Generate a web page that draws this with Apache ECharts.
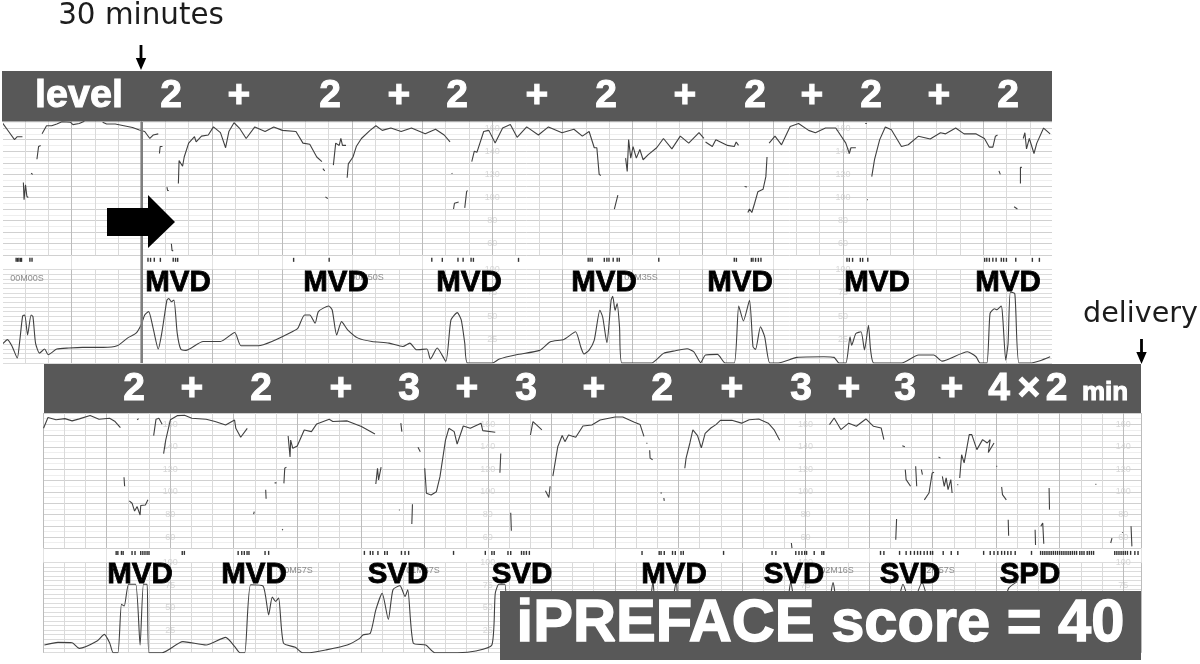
<!DOCTYPE html>
<html>
<head>
<meta charset="utf-8">
<style>
  html, body { margin: 0; background: #fff; }
  #chart { width: 1200px; height: 664px; }
</style>
<script src="https://cdn.jsdelivr.net/npm/echarts@6/dist/echarts.min.js"></script>
</head>
<body>
<div id="chart"></div>
<script>
// x values are chart squares from the left edge of each strip, y values are bpm or toco units
const fhrRow1 = [
  [[0.06,164],[0.31,157],[0.56,150],[0.68,152.5],[0.9,152.5]],
  [[0.94,113],[0.97,98],[1.03,111],[1.09,101],[1.15,100]],
  [[1.27,121],[1.34,120]],
  [[1.52,133],[1.59,144],[1.68,145]],
  [[1.74,155],[1.93,162],[2.15,162],[2.37,163.5],[2.59,165.5],[2.96,165],[3.06,163],[3.33,164],[3.55,166]],
  [[4.33,165],[4.5,163.5],[4.87,163.5],[5.24,162],[5.61,160.5],[5.9,158.3],[6.13,157],[6.35,151],[6.49,154],[6.71,155]],
  [[6.76,138],[6.79,144],[6.89,144]],
  [[7.08,109],[7.11,106],[7.16,106]],
  [[7.27,60],[7.3,54],[7.35,54]],
  [[7.57,112],[7.6,132],[7.75,127],[7.82,135],[8.01,147],[8.26,152.5],[8.33,148],[8.56,153],[8.85,154],[9.07,161],[9.37,156],[9.59,143],[9.73,157],[9.95,164.6],[10.18,160],[10.47,151],[10.84,161],[11.28,157],[11.65,161],[12.02,158],[12.6,157],[12.9,147],[13.19,146],[13.49,135],[13.71,131]],
  [[13.75,125],[13.83,123]],
  [[13.86,100.5],[13.96,99]],
  [[14.2,128],[14.3,147],[14.45,145],[14.52,151],[14.59,145],[14.74,145]],
  [[14.79,117],[14.84,129],[15.04,135],[15.18,144],[15.4,151],[15.77,158],[16.02,162],[16.29,158],[16.66,160],[17.1,157],[17.54,160],[18.13,155],[18.57,159],[18.94,154],[19.19,148]],
  [[19.26,121],[19.29,120.5]],
  [[19.34,90],[19.38,95],[19.56,96]],
  [[19.82,91],[19.9,105],[19.94,106]],
  [[20.12,131],[20.23,140],[20.34,139],[20.63,157],[20.85,158],[21.12,147],[21.44,160],[21.77,163],[22.06,152],[22.47,161],[22.97,154],[23.4,161],[23.98,156],[24.49,159],[24.85,153],[25.14,157],[25.36,143],[25.47,143],[25.57,120],[25.64,119]],
  [[26.22,90],[26.3,96.5],[26.37,102]],
  [[26.7,134],[26.77,122.5],[26.83,150],[26.92,134],[27.02,144],[27.16,134],[27.31,141.5],[27.45,132.6],[27.67,137],[28.03,143],[28.32,151],[28.68,142],[29.04,153],[29.4,147],[29.84,156],[30.05,151]],
  [[30.12,148],[30.41,144],[30.56,150],[31.06,145],[31.35,144],[31.43,148],[31.53,145]],
  [[31.79,109.5],[31.89,109]],
  [[31.93,87],[32,90],[32.1,87],[32.22,95],[32.36,105],[32.58,107],[32.7,118],[32.75,135]],
  [[32.84,147],[33.09,153],[33.37,145.5],[33.74,161.4],[34.1,164],[34.53,158],[34.82,156],[35.25,160],[35.69,160],[36.12,147],[36.27,138],[36.34,143],[36.55,143]],
  [[36.95,164],[37.02,164]],
  [[37.03,98],[37.07,98]],
  [[37.23,118],[37.35,133],[37.57,150],[37.81,161],[38.07,158.6],[38.5,144],[38.79,145.6],[39.23,153],[39.73,150.5],[40.17,156],[40.39,155],[40.82,160],[41.18,155],[41.68,155],[42.05,151],[42.26,143.5],[42.41,143.5],[42.52,153],[42.61,154]],
  [[42.67,123],[42.73,120]],
  [[43.32,92],[43.46,90]],
  [[43.59,112],[43.59,126],[43.65,126]],
  [[43.71,151],[43.78,156],[43.85,142],[43.97,151],[44.17,138],[44.29,147],[44.58,160],[44.86,155]]
];

const tocoRow1 = [
  [0.06,20.6],[0.26,25],[0.46,17.7],[0.68,5.3],[0.79,24.8],[0.91,50.3],[1,51.4],[1.12,30],[1.27,51.4],[1.35,49.6],[1.46,21.3],[1.63,10.6],[1.85,14.9],[2,8.9],[2.37,14.9],[2.89,16],[3.47,16.7],[4.36,16.7],[4.95,18.4],[5.39,26.6],[5.76,31.9],[5.98,40.8],[6.13,51.4],[6.3,55],[6.49,37.2],[6.71,14.9],[6.86,31.9],[7.08,67.3],[7.16,69],[7.27,65.5],[7.38,67.3],[7.52,31.9],[7.67,14.9],[7.89,13.5],[8.63,23],[9.37,23],[9.98,32.6],[10.25,18.4],[10.99,18.4],[11.57,23],[12.46,33.7],[12.68,37.2],[12.97,51.4],[13.19,51.4],[13.42,42.5],[13.56,55],[14,61],[14.15,56.7],[14.34,30],[14.55,44.3],[14.81,35.5],[15.26,26.6],[15.85,23],[16.58,21.3],[17.17,17.7],[17.47,21.3],[17.76,14.2],[18.2,14.9],[18.35,4.3],[18.64,16],[19.01,1.8],[19.23,46],[19.5,53.9],[19.67,46],[19.82,21.3],[19.94,0],[21,0],[21.3,4.3],[22.03,8.9],[23.03,13.5],[23.48,22.7],[24.06,25.2],[24.56,33.4],[24.78,17.4],[24.92,9.6],[25.14,13.8],[25.36,24.5],[25.6,56.4],[25.72,49.2],[25.9,21.6],[26.08,67],[26.15,71.3],[26.25,56.4],[26.34,63.5],[26.44,38.7],[26.54,0],[27.81,0],[28.32,10.3],[28.82,13.1],[29.33,15.2],[29.62,12],[29.91,0.4],[30.12,8.5],[30.63,9.2],[30.96,0],[31.35,0],[31.54,61],[31.74,45],[32,67],[32.15,17.4],[32.26,14.6],[32.47,38.7],[32.65,28],[32.87,0],[33.23,0],[34.03,6],[35.18,6.7],[35.62,6],[35.83,0],[36.12,0],[36.3,28],[36.37,19],[36.55,31.5],[36.77,33.4],[36.92,14],[37.09,40.4],[37.18,14],[37.32,0],[38.51,0],[39.23,8.5],[39.88,8.5],[40.24,2],[41.32,12],[41.69,6.7],[41.86,0],[42.15,0],[42.29,53],[42.48,58],[42.58,57],[42.77,61],[42.84,46],[42.96,3],[43.06,21],[43.16,76],[43.35,74],[43.53,0],[44,0],[44.43,2.5],[44.86,6.7]
];

const marksRow1 = [0.63,0.69,0.75,0.82,0.86,1.22,1.31,6.27,6.38,6.54,6.8,7.35,7.45,7.54,12.5,14.02,18.41,18.86,19.53,19.75,20.09,20.19,22.12,25.1,25.18,25.27,25.79,25.9,25.99,26.17,26.34,26.43,28.12,31.35,31.44,32.08,32.15,32.26,32.38,32.49,36.17,36.27,36.41,36.74,36.84,37.06,42.06,42.15,42.26,42.41,42.55,42.77,42.87,42.99,43.39,44.1,44.4];

const fhrRow2 = [
  [[0.02,156.4],[0.23,166],[0.61,164],[1.03,165],[1.37,163],[1.71,164.8],[2.22,167.7],[2.64,164.5],[3.14,165.3],[3.4,162.4],[3.65,157]],
  [[3.82,113],[3.85,105]],
  [[4.07,92],[4.2,90],[4.32,83],[4.44,87],[4.58,79.5],[4.61,88],[4.83,88.4],[4.95,93]],
  [[4.44,164],[4.51,165]],
  [[5.22,150],[5.33,164.4],[5.47,165.3],[5.62,160]],
  [[5.69,134],[5.79,146],[6.01,164],[6.35,167.7],[6.68,168],[7.02,165.3],[7.7,164.4],[8.12,162.4],[8.62,159.4],[9.04,163.8],[9.1,156.4],[9.33,148.5],[9.64,156.4]],
  [[9.94,80.4],[9.97,82.5]],
  [[10.51,102],[10.53,94]],
  [[10.93,108],[11.02,108]],
  [[11.29,67],[11.32,66]],
  [[11.37,107.6],[11.41,121],[11.49,122]],
  [[11.57,149.6],[11.66,131],[11.69,146],[11.79,138.7],[12,140.8],[12.33,155],[12.67,153.5],[12.92,160.3],[13.51,164.4],[13.68,162.4],[14.36,163],[15.03,158],[15.67,151.4]],
  [[15.71,107],[15.79,121],[15.84,110.6],[15.96,122]],
  [[16.8,84],[16.84,84]],
  [[16.89,161],[16.94,153.5]],
  [[17.44,89],[17.41,71.5]],
  [[17.7,139.6],[17.81,135.7]],
  [[18.02,121],[18.1,98.8],[18.32,97.3],[18.57,100.2],[18.74,113.5],[19,146],[19.16,156.4],[19.41,153.5],[19.55,142.5],[19.84,158.5],[20.17,156.4],[20.68,160.9],[20.76,154.4],[21.35,152.9]],
  [[21.57,117],[21.61,134]],
  [[22.08,81.6],[22.11,65.6]],
  [[22.42,110.6],[22.45,110.6]],
  [[23.01,150.5],[23.13,162.4],[23.3,159.4],[23.55,155]],
  [[23.72,101],[23.88,95],[23.94,105]],
  [[24.07,114],[24.3,140],[24.51,150],[24.64,144.6],[24.81,150.5],[25.15,148.5],[25.49,158.5],[25.91,159.4],[26.3,163.8],[27.01,166.5],[27.37,166.5],[27.92,161.8],[28.19,159.7],[28.37,149.3]],
  [[28.49,143.4],[28.53,143]],
  [[28.64,137],[28.66,130],[28.78,128.6]],
  [[28.9,122],[28.93,122]],
  [[29.15,99],[29.22,99]],
  [[29.31,94.6],[29.33,92]],
  [[30.3,121],[30.36,130],[30.54,143.4],[30.68,155],[30.9,150],[31.08,139],[31.26,152],[31.53,156.7],[31.77,159.7],[31.98,163.5],[32.52,163.5],[32.98,161],[33.34,164],[33.79,164.7],[34.24,161],[34.51,155.3],[34.78,145.8]],
  [[35.33,54.7],[35.36,50.2]],
  [[37.13,159.7],[37.35,165.6],[37.67,155.3],[38.04,161],[38.4,158.3],[38.85,164.7],[39.21,158.2],[39.57,156.7],[39.7,146.4]],
  [[40.3,76],[40.26,57.6]],
  [[40.57,141],[40.69,140]],
  [[40.71,119.8],[40.75,110.9],[40.96,105]],
  [[41.2,122.7],[41.25,105]],
  [[41.47,119.8],[41.52,115.3]],
  [[41.61,93],[41.83,99],[41.98,116.8],[42.07,117.4]],
  [[42.28,131],[42.37,130]],
  [[42.46,113.8],[42.55,105],[42.64,112.4],[42.73,102],[42.86,110.9],[42.92,99]],
  [[43.17,106.5],[43.21,106.5]],
  [[43.28,112.4],[43.37,133],[43.49,125.7],[43.73,150.8],[43.85,150.8],[44.09,137.5],[44.36,146.4],[44.58,143.4],[44.72,146.4],[44.63,135],[44.9,143.4]],
  [[45.01,122.7],[45.05,122.7]],
  [[45.26,104.4],[45.3,97.6],[45.48,93]],
  [[45.57,75.4],[45.59,61.2]],
  [[46.84,66.5],[46.86,53]],
  [[47.11,69.5],[47.2,72.4],[47.25,54]],
  [[47.5,103.5],[47.52,84.3]],
  [[49.69,106.7],[49.73,106.7]],
  [[50.41,54.7],[50.47,59]],
  [[50.94,64],[50.98,64]],
  [[51.37,69.5],[51.41,51.7]]
];

const tocoRow2 = [
  [0.06,8.6],[0.7,11.5],[1.37,11.1],[1.71,4.8],[2.55,13],[2.89,20.4],[3.14,11.1],[3.31,0],[3.53,0],[3.7,53.8],[3.83,51.9],[4.04,76],[4.37,76],[4.58,8.5],[4.74,76],[4.91,76],[5,0],[5.62,0],[6.6,12.3],[7.7,8.5],[8.62,17],[9.05,6.8],[9.3,0],[9.52,0],[9.8,75.5],[10.39,74],[10.65,42],[10.82,61.8],[10.98,57],[11.12,60.8],[11.35,10.6],[11.91,6],[12.25,0],[12.59,0],[13.34,3],[14.36,8.5],[14.95,15.9],[15.1,19.8],[15.45,21.6],[15.71,47.5],[16.01,66],[16.3,37],[16.52,70],[16.85,74.5],[17.09,62.5],[17.22,70],[17.48,10.6],[18.07,8.5],[18.49,0],[19.58,0],[20.43,1.9],[21.19,8.5],[21.35,66],[21.52,76],[21.8,76],[22.2,0],[28.2,0],[28.64,50],[28.8,79],[28.95,50],[29.6,50],[29.9,79],[30.1,50],[35,50],[35.3,78],[35.6,50],[37,50],[37.3,78],[37.6,50],[40.2,50],[40.6,76],[41,50],[41.5,78],[42,50],[45.2,50],[45.6,72],[46,79]
];

const marksRow2 = [3.45,3.53,3.7,3.78,4.2,4.34,4.61,4.71,4.81,4.91,5,6.57,6.67,9.21,9.38,9.5,9.63,9.72,10.48,10.65,15.17,15.45,15.57,15.81,16.13,16.25,16.92,17.09,17.26,19.38,20.88,21.19,21.3,21.95,22.08,22.59,22.7,22.82,22.96,28.28,29.09,29.18,29.33,29.72,29.85,30.12,30.23,32.13,34.42,34.6,35.54,35.69,35.83,35.96,36.05,36.41,36.77,36.86,39.54,39.7,40.44,40.75,40.96,41.14,41.29,41.43,41.6,41.75,41.9,42,42.5,42.88,43.19,44.41,44.72,44.9,45.08,45.26,45.4,45.55,45.7,45.9,46.67,47.1,47.2,47.3,47.4,47.5,47.6,47.7,47.8,47.9,48,48.1,48.2,48.3,48.4,48.5,48.6,48.7,48.8,48.95,49.05,49.15,49.3,49.4,49.5,49.6,50.6,50.7,50.8,50.9,51,51.1,51.2,51.35,51.55,51.7];

const fhrScale = [160, 140, 120, 100, 80, 60];
const tocoScale = [100, 75, 50, 25];
const scaleColsRow1 = [21, 36];
const scaleColsRow2 = [6, 21, 36, 51];

const termsRow1 = ['2', '+', '2', '+', '2', '+', '2', '+', '2', '+', '2', '+', '2'];
const termsRow2 = ['2', '+', '2', '+', '3', '+', '3', '+', '2', '+', '3', '+', '3', '+', '4', '×', '2'];
const kindsRow1 = ['MVD', 'MVD', 'MVD', 'MVD', 'MVD', 'MVD', 'MVD'];
const kindsRow2 = ['MVD', 'MVD', 'SVD', 'SVD', 'MVD', 'SVD', 'SVD', 'SPD'];

// label centres on the page, kept apart from the values above
const termXRow1 = [171, 239, 330, 399, 457, 537, 606, 685, 755, 812, 871, 939, 1008];
const termXRow2 = [134, 192, 261, 341, 409, 467, 526, 594, 662, 732, 801, 849, 905, 952, 999, 1029, 1056.5];
const kindXRow1 = [178, 336, 469, 604, 740, 877, 1008];
const kindXRow2 = [140, 254, 398, 522, 674, 794, 910, 1030];

const lineColor = '#404040';
const bandColor = '#585858';
const sansBold = '"Liberation Sans", Arial, sans-serif';

const rows = [
  { left: 1.4, width: 1050.6, maxX: 44.94, fhrTop: 116.5, fhrH: 138.8, stripTop: 255.3, stripH: 14.2, tocoTop: 269.5, tocoH: 93.5 },
  { left: 43.1, width: 1097.9, maxX: 51.84, fhrTop: 413, fhrH: 135.3, stripTop: 548.3, stripH: 14.4, tocoTop: 562.7, tocoH: 90 }
];

// join the separate trace pieces, a null pair breaks the line
function withGaps(segments) {
  let out = [];
  segments.forEach((s, i) => {
    if (i) out.push([null, null]);
    out = out.concat(s);
  });
  return out;
}

let grids = [], xAxes = [], yAxes = [];

function addPanel(row, top, height, yOpt, hLines) {
  let g = grids.length;
  grids.push({ left: row.left, width: row.width, top: top, height: height, containLabel: false });
  xAxes.push({
    type: 'value', gridIndex: g, min: 0, max: row.maxX, interval: 1,
    axisLine: { show: false }, axisTick: { show: false }, axisLabel: { show: false },
    splitLine: { show: hLines, lineStyle: { color: '#dadada', width: 1 } }
  });
  xAxes.push({
    type: 'value', gridIndex: g, min: 0, max: row.maxX, interval: 3, position: 'top',
    axisLine: { show: false }, axisTick: { show: false }, axisLabel: { show: false },
    splitLine: { show: true, lineStyle: { color: hLines ? '#bcbcbc' : '#e2e2e2', width: 1 } }
  });
  yAxes.push(Object.assign({
    type: 'value', gridIndex: g,
    axisLine: { show: false }, axisTick: { show: false }, axisLabel: { show: false }
  }, yOpt));
  return g;
}

function fhrAxis() {
  return {
    min: 50, max: 170, interval: 10,
    minorTick: { show: false, splitNumber: 2 },
    splitLine: { show: true, lineStyle: { color: '#d0d0d0', width: 1 } },
    minorSplitLine: { show: true, lineStyle: { color: '#eeeeee', width: 1 } }
  };
}

function tocoAxis() {
  return {
    min: 0, max: 100, interval: 5,
    splitLine: { show: true, lineStyle: { color: '#dcdcdc', width: 1 } }
  };
}

let series = [];

function traceSeries(g, data, smooth) {
  return {
    type: 'line', data: data, xAxisIndex: g * 2, yAxisIndex: g,
    showSymbol: false, connectNulls: false, silent: true, z: 3, smooth: smooth,
    lineStyle: { color: lineColor, width: 1.1 }
  };
}

function scaleSeries(g, cols, values) {
  let data = [];
  cols.forEach(c => values.forEach(v => data.push([c, v])));
  return {
    type: 'scatter', data: data, xAxisIndex: g * 2, yAxisIndex: g, symbolSize: 0, silent: true, z: 2,
    label: {
      show: true, position: 'inside', color: '#cecece', fontSize: 9, fontFamily: sansBold,
      formatter: p => String(p.value[1])
    }
  };
}

function markSeries(g, marks) {
  return {
    type: 'scatter', data: marks.map(m => [m, 0.68]), xAxisIndex: g * 2, yAxisIndex: g,
    symbol: 'rect', symbolSize: [1.4, 4], silent: true, z: 3,
    itemStyle: { color: '#333', opacity: 1 }
  };
}

let stripAxis = { min: 0, max: 1, splitLine: { show: false } };

[
  [rows[0], fhrRow1, tocoRow1, marksRow1, scaleColsRow1],
  [rows[1], fhrRow2, tocoRow2, marksRow2, scaleColsRow2]
].forEach(r => {
  let row = r[0];
  let gF = addPanel(row, row.fhrTop, row.fhrH, fhrAxis(), true);
  let gS = addPanel(row, row.stripTop, row.stripH, stripAxis, false);
  let gT = addPanel(row, row.tocoTop, row.tocoH, tocoAxis(), true);
  series.push(scaleSeries(gF, r[4], fhrScale));
  series.push(scaleSeries(gT, r[4], tocoScale));
  series.push(traceSeries(gF, withGaps(r[1]), false));
  series.push(markSeries(gS, r[3]));
  series.push(traceSeries(gT, r[2], 0.2));
});

function text(x, y, str, size, opt) {
  return {
    type: 'text', z: 100, x: x, y: y, silent: true,
    style: Object.assign({
      text: str, fontSize: size, fontWeight: 'bold', fontFamily: sansBold,
      fill: '#fff', stroke: '#fff', lineWidth: 1, align: 'center', verticalAlign: 'middle'
    }, opt || {})
  };
}

function band(x, y, w, h) {
  return { type: 'rect', z: 90, silent: true, shape: { x: x, y: y, width: w, height: h }, style: { fill: bandColor } };
}

function poly(points) {
  return { type: 'polygon', z: 95, silent: true, shape: { points: points }, style: { fill: '#000' } };
}

function downArrow(x, top, bottom) {
  return poly([[x - 1.4, top], [x + 1.4, top], [x + 1.4, bottom - 12], [x + 5.2, bottom - 12], [x, bottom], [x - 5.2, bottom - 12], [x - 1.4, bottom - 12]]);
}

const thin = { fontWeight: 'normal', fontFamily: '"DejaVu Sans", sans-serif', fill: '#1c1c1c', lineWidth: 0 };
const tiny = { fontWeight: 'normal', fontSize: 9, fill: '#8c8c8c', lineWidth: 0 };
const ink = { fill: '#000', stroke: '#000', lineWidth: 0.8 };

let graphics = [
  { type: 'rect', z: 80, silent: true, shape: { x: 0, y: 116, width: 3, height: 250 }, style: { fill: '#fff' } },
  { type: 'rect', z: 80, silent: true, shape: { x: 1052, y: 116, width: 4, height: 250 }, style: { fill: '#fff' } },
  { type: 'line', z: 85, silent: true, shape: { x1: 141.7, y1: 122, x2: 141.7, y2: 363 }, style: { stroke: '#7e7e7e', lineWidth: 2.6 } },
  band(2, 71, 1050, 50.5),
  band(44, 364, 1097, 49),
  band(500, 591, 641, 69),
  poly([[107, 208], [148, 208], [148, 195], [175, 222], [148, 248], [148, 236], [107, 236]]),
  downArrow(141, 45, 70),
  downArrow(1141.5, 339, 364),
  text(141, 16, '30 minutes', 29.4, thin),
  text(1140.5, 315, 'delivery', 28.6, thin),
  text(79, 96, 'level', 39.5),
  text(1105, 393, 'min', 26),
  text(820.5, 625, 'iPREFACE score = 40', 59.6, { lineWidth: 1.4 }),
  text(27, 278.5, '00M00S', 9, tiny),
  text(367, 278, '00M50S', 9, tiny),
  text(641, 278, '01M35S', 9, tiny),
  text(296, 571, '00M57S', 9, tiny),
  text(423, 571, '01M37S', 9, tiny),
  text(837, 571, '02M16S', 9, tiny),
  text(938, 571, '02M57S', 9, tiny)
];
termsRow1.forEach((t, i) => graphics.push(text(termXRow1[i], 96, t, 39)));
termsRow2.forEach((t, i) => graphics.push(text(termXRow2[i], 389, t, 39)));
kindsRow1.forEach((t, i) => graphics.push(text(kindXRow1[i], 282.5, t, 29.5, ink)));
kindsRow2.forEach((t, i) => graphics.push(text(kindXRow2[i], 575, t, 29.5, ink)));

let chart = echarts.init(document.getElementById('chart'), null, { renderer: 'canvas' });
chart.setOption({
  animation: false,
  backgroundColor: '#fff',
  grid: grids,
  xAxis: xAxes,
  yAxis: yAxes,
  series: series,
  graphic: graphics
});
</script>
</body>
</html>
